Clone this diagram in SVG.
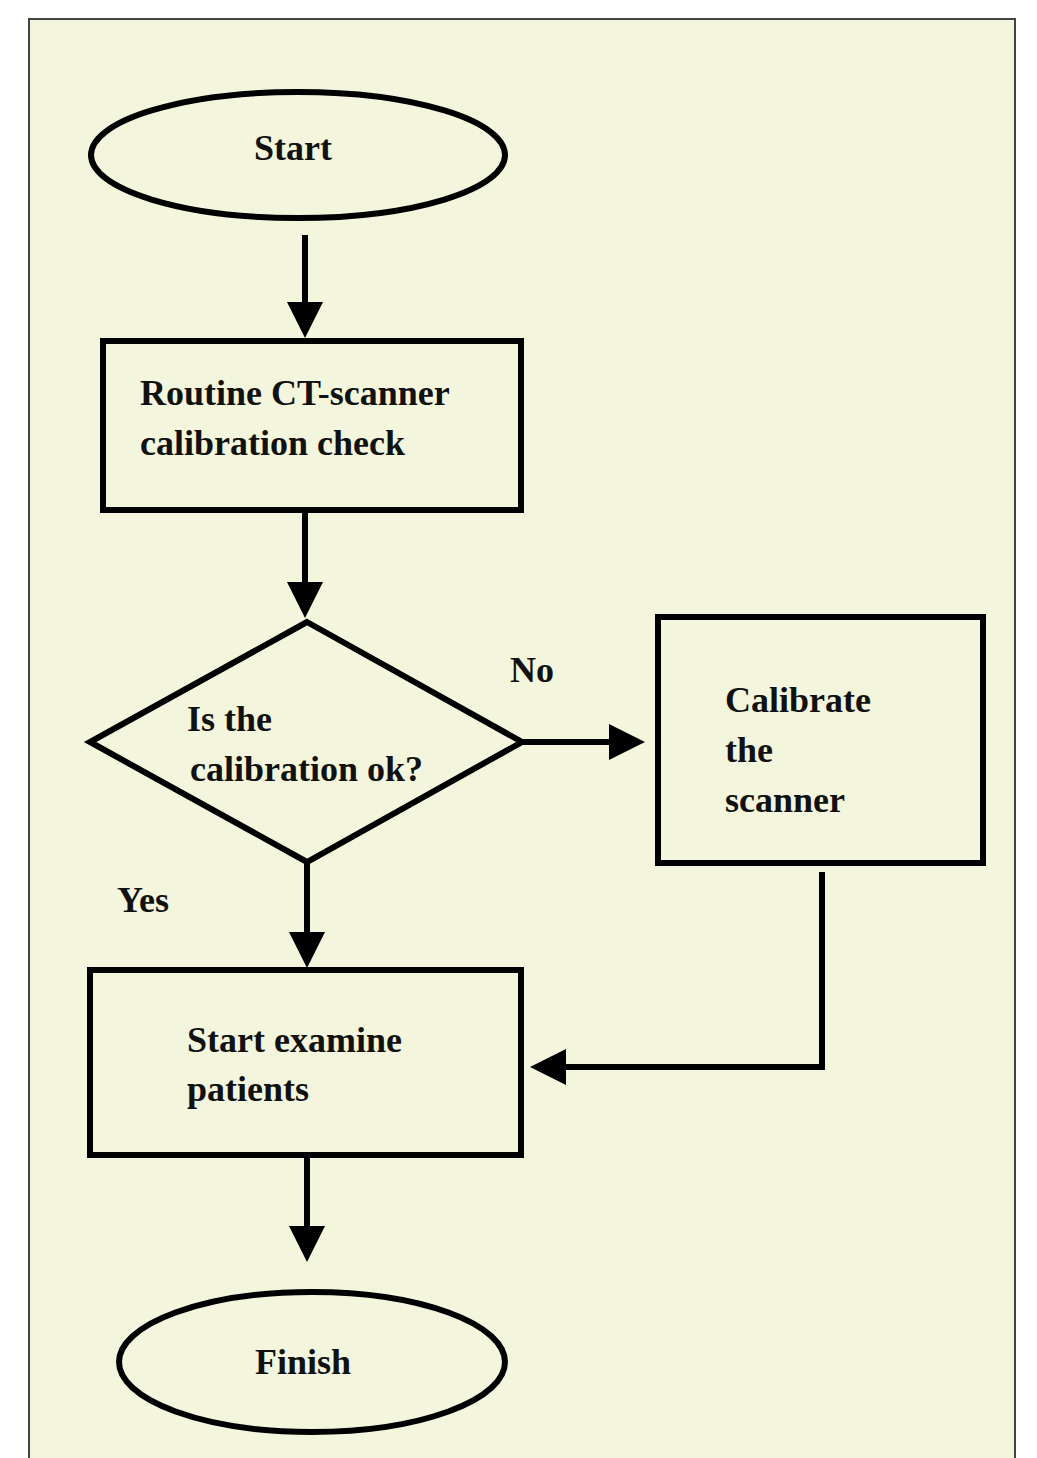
<svg xmlns="http://www.w3.org/2000/svg" width="1037" height="1458" viewBox="0 0 1037 1458">
<style>
.s{fill:none;stroke:#000;stroke-width:6}
.t{font-family:"Liberation Serif",serif;font-weight:bold;font-size:36px;fill:#111}
.c{stroke:#000;stroke-width:6;fill:none}
</style>
<defs><marker id="a" markerWidth="6" markerHeight="6" refX="5" refY="3" orient="auto" markerUnits="strokeWidth"><path d="M0,0L6,3L0,6Z" fill="#000"/></marker></defs>
<rect x="0" y="0" width="1037" height="1458" fill="#fff"/>
<rect x="29" y="19" width="986" height="1445" fill="#f3f6dc" stroke="#444" stroke-width="2"/>
<g id="start"><ellipse class="s" cx="298" cy="155" rx="207" ry="63"/><text class="t" x="293" y="160" text-anchor="middle">Start</text></g>
<g id="routine"><rect class="s" x="103" y="341" width="418" height="169"/><text class="t" x="140" y="405">Routine CT-scanner</text><text class="t" x="140" y="455">calibration check</text></g>
<g id="decision"><polygon class="s" points="307,622 522,742 307,862 90,742"/><text class="t" x="187" y="731">Is the</text><text class="t" x="190" y="781">calibration ok?</text></g>
<g id="calibrate"><rect class="s" x="658" y="617" width="325" height="246"/><text class="t" x="725" y="712">Calibrate</text><text class="t" x="725" y="762">the</text><text class="t" x="725" y="812">scanner</text></g>
<g id="examine"><rect class="s" x="90" y="970" width="431" height="185"/><text class="t" x="187" y="1052">Start examine</text><text class="t" x="187" y="1101">patients</text></g>
<g id="finish"><ellipse class="s" cx="312" cy="1362" rx="193" ry="70"/><text class="t" x="303" y="1374" text-anchor="middle">Finish</text></g>
<g id="connectors">
<path class="c" d="M305,235V332" marker-end="url(#a)"/>
<path class="c" d="M305,512V612" marker-end="url(#a)"/>
<path class="c" d="M522,742H639" marker-end="url(#a)"/>
<path class="c" d="M307,864V962" marker-end="url(#a)"/>
<path class="c" d="M822,872V1067H536" marker-end="url(#a)"/>
<path class="c" d="M307,1157V1256" marker-end="url(#a)"/>
<text class="t" x="510" y="682">No</text>
<text class="t" x="117" y="912">Yes</text>
</g>
</svg>
